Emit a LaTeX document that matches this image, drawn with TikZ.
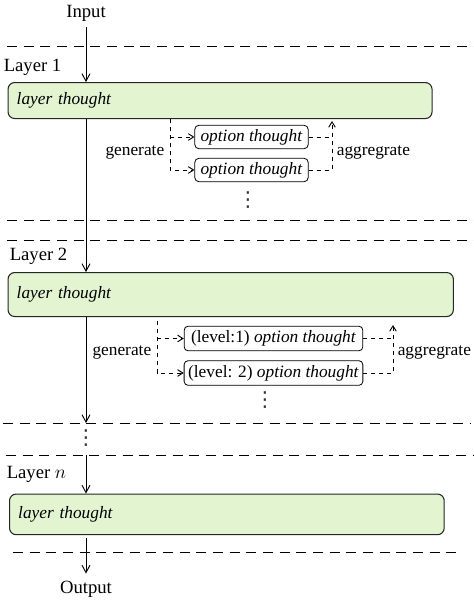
\documentclass[tikz,border=0pt]{standalone}
\usepackage{fontspec}
\setmainfont{Liberation Serif}
\newfontfamily\dotsfont{DejaVu Sans}
\usepackage{tikz}
\usetikzlibrary{arrows.meta}

\definecolor{layergreen}{HTML}{E2F4D0}
\tikzset{
  >={Straight Barb[length=5.5pt, width=6pt]},
  layerbox/.style={draw=black!85, line width=0.8pt, fill=layergreen, rounded corners=5pt,
    anchor=north west, align=left, inner xsep=6.5pt, font=\fontsize{13}{15}\selectfont\itshape},
  optionbox/.style={draw, line width=0.6pt, rounded corners=3pt, fill=white,
    inner xsep=3pt, inner ysep=1.5pt, minimum height=17.5pt, font=\fontsize{13}{15}\selectfont},
  layerlabel/.style={inner sep=1pt, font=\fontsize{14}{16}\selectfont},
  sidelabel/.style={inner sep=1pt, font=\fontsize{13}{15}\selectfont},
  dotsnode/.style={inner sep=0pt, text=black!80, font=\dotsfont\fontsize{15.5}{17}\selectfont},
  sepline/.style={line width=0.7pt, dash pattern=on 7.5pt off 5pt},
  flowline/.style={line width=0.7pt, dashed, -{Straight Barb[length=4pt, width=5pt]}},
}

\begin{document}
\begin{tikzpicture}[x=0.75pt, y=-0.75pt, line width=0.7pt]
  \useasboundingbox (0,0) rectangle (474,600);

  % separators between the layers
  \draw[sepline] (7,46) -- (474,46);
  \draw[sepline] (7,220) -- (474,220);
  \draw[sepline] (7,240.5) -- (474,240.5);
  \draw[sepline] (3,423) -- (470,423);
  \draw[sepline] (6,455) -- (474,455);
  \draw[sepline] (13,552) -- (458,552);

  % Input
  \node[layerlabel, anchor=base] (input) at (86,17) {Input};

  % Layer 1
  \node[layerlabel, anchor=west] (lab1) at (2,67) {Layer 1};
  \node[layerbox, text width=305pt, minimum height=27pt] (l1) at (7.5,82) {layer thought};
  \node[optionbox, minimum width=85pt] (o11) at (251.5,137) {\textit{option thought}};
  \node[optionbox, minimum width=85pt] (o12) at (251.5,170) {\textit{option thought}};
  \node[dotsnode] (d1) at (248,200) {⋮};
  \coordinate (g1) at (170,0);
  \coordinate (a1) at (332,0);
  \draw[flowline] (g1 |- l1.south) |- (o12);
  \draw[flowline] (g1 |- o11) -- (o11);
  \draw[flowline, shorten >=1.5pt] (o12) -| (a1 |- l1.south);
  \draw[dashed] (o11) -- (a1 |- o11);
  \node[sidelabel, anchor=east] (gen1) at (166,152) {generate};
  \node[sidelabel, anchor=west] (agg1) at (335,152) {aggregrate};

  % Layer 2
  \node[layerlabel, anchor=west] (lab2) at (8,256) {Layer 2};
  \node[layerbox, text width=321pt, minimum height=33pt] (l2) at (7.5,272) {layer thought};
  \node[optionbox, minimum width=134pt, minimum height=18.5pt] (o21) at (273.5,338.5) {(level:1) \textit{option thought}};
  \node[optionbox, minimum width=134pt, minimum height=18.5pt] (o22) at (273.5,373) {(level: 2) \textit{option thought}};
  \node[dotsnode] (d2) at (265,400) {⋮};
  \coordinate (g2) at (157,0);
  \coordinate (a2) at (393,0);
  \draw[flowline, shorten <=3pt] (g2 |- l2.south) |- (o22);
  \draw[flowline] (g2 |- o21) -- (o21);
  \draw[flowline, shorten >=6pt] (o22) -| (a2 |- l2.south);
  \draw[dashed] (o21) -- (a2 |- o21);
  \node[sidelabel, anchor=east] (gen2) at (153,352) {generate};
  \node[sidelabel, anchor=west] (agg2) at (396,352) {aggregrate};

  % Layer n
  \node[layerlabel, anchor=west] (labn) at (5,474) {Layer $n$};
  \node[layerbox, text width=313pt, minimum height=30.5pt] (ln) at (9,493.5) {layer thought};

  % Output
  \node[layerlabel, anchor=base] (output) at (86,593) {Output};

  % main flow through the layers
  \coordinate (gap1) at (86,423);
  \coordinate (gap2) at (86,455);
  \node[dotsnode] (dn) at (86,438) {⋮};
  \draw[->, shorten <=3pt] (input) -- (input |- l1.north);
  \draw[->] (l1.south -| input) -- (l2.north -| input);
  \draw[->] (l2.south -| input) -- (gap1);
  \draw[->] (gap2) -- (ln.north -| gap2);
  \draw[->, shorten <=2pt, shorten >=4pt] (ln.south -| output) -- (output);
\end{tikzpicture}
\end{document}
